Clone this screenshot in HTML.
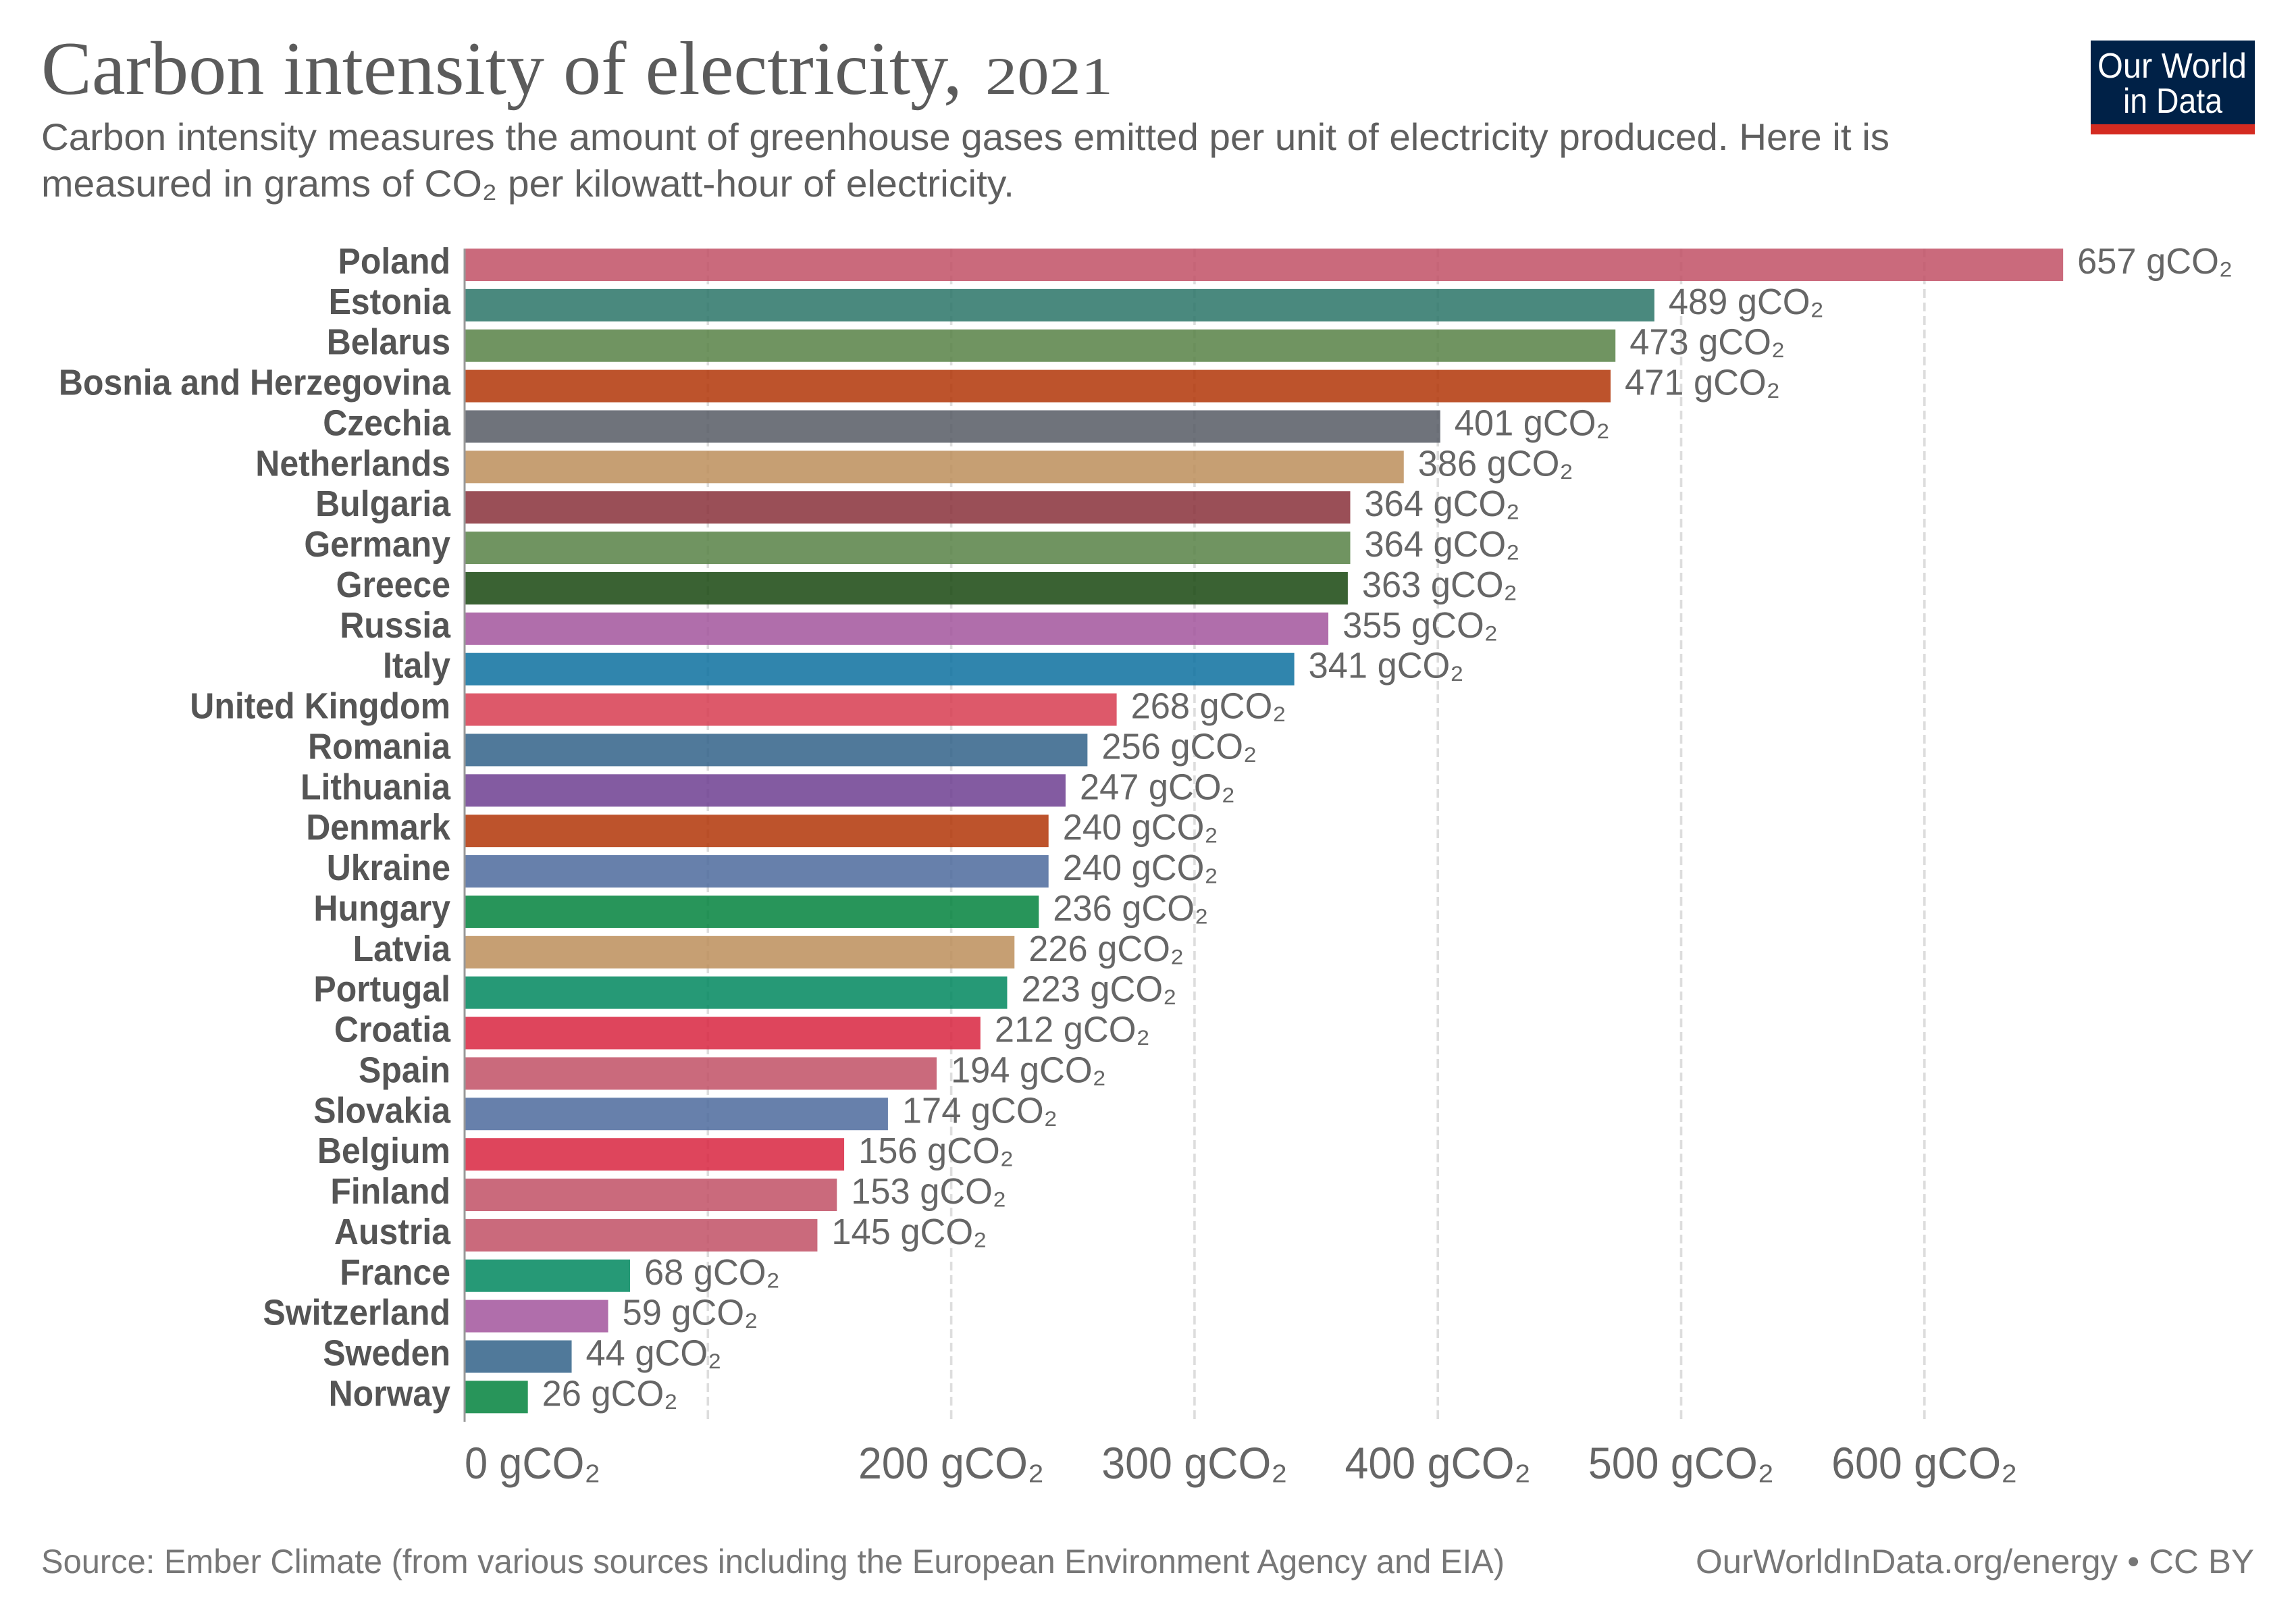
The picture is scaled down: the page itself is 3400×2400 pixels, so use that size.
<!DOCTYPE html>
<html lang="en">
<head>
<meta charset="utf-8">
<title>Carbon intensity of electricity, 2021</title>
<style>
html,body{margin:0;padding:0;background:#fff;width:3400px;height:2400px;overflow:hidden}
svg{display:block}
text{font-family:"Liberation Sans",sans-serif}
</style>
</head>
<body>
<svg id="chart" xmlns="http://www.w3.org/2000/svg" width="3400" height="2400" viewBox="0 0 3400 2400">
  <rect x="0" y="0" width="3400" height="2400" fill="#fff"/>
  <g>
    <text x="61" y="139" font-size="112" fill="#5b5b5b" style="font-family:'Liberation Serif',serif" textLength="1364" lengthAdjust="spacingAndGlyphs">Carbon intensity of electricity,</text>
    <text x="1459" y="139" font-size="78" fill="#5b5b5b" style="font-family:'Liberation Serif',serif" textLength="189" lengthAdjust="spacingAndGlyphs">2021</text>
  </g>
  <g font-size="56" fill="#5f5f5f">
    <text x="61" y="222" textLength="2737" lengthAdjust="spacingAndGlyphs">Carbon intensity measures the amount of greenhouse gases emitted per unit of electricity produced. Here it is</text>
    <text x="61" y="291" textLength="1441" lengthAdjust="spacingAndGlyphs">measured in grams of CO₂ per kilowatt-hour of electricity.</text>
  </g>
  <g>
    <rect x="3096" y="60" width="243" height="124" fill="#002147"/>
    <rect x="3096" y="184" width="243" height="15" fill="#d42b21"/>
    <text x="3106" y="115" font-size="52" fill="#fff" textLength="221" lengthAdjust="spacingAndGlyphs">Our World</text>
    <text x="3144" y="167" font-size="52" fill="#fff" textLength="147" lengthAdjust="spacingAndGlyphs">in Data</text>
  </g>
  <g id="grid"></g>
  <g id="bars"></g>
  <g id="axis"></g>
  <g id="cats"></g>
  <g id="vals"></g>
  <g font-size="50" fill="#777">
    <text x="61" y="2329" textLength="2167" lengthAdjust="spacingAndGlyphs">Source: Ember Climate (from various sources including the European Environment Agency and EIA)</text>
    <text x="2511" y="2329" textLength="827" lengthAdjust="spacingAndGlyphs">OurWorldInData.org/energy • CC BY</text>
  </g>
</svg>
<script>
const categories = ["Poland","Estonia","Belarus","Bosnia and Herzegovina","Czechia","Netherlands","Bulgaria","Germany","Greece","Russia","Italy","United Kingdom","Romania","Lithuania","Denmark","Ukraine","Hungary","Latvia","Portugal","Croatia","Spain","Slovakia","Belgium","Finland","Austria","France","Switzerland","Sweden","Norway"];
const values = [657,489,473,471,401,386,364,364,363,355,341,268,256,247,240,240,236,226,223,212,194,174,156,153,145,68,59,44,26];
const barColors = ["#C15065","#2A7467","#578145","#B13507","#565B64","#BC8E5A","#883039","#578145","#18470F","#A2559C","#0C709F","#D73C50","#316188","#6D3E91","#B13507","#4C6A9C","#02833D","#BC8E5A","#00875E","#D8243F","#C15065","#4C6A9C","#D8243F","#C15065","#C15065","#00875E","#A2559C","#316188","#02833D"];
const tickValues = [0,100,200,300,400,500,600];
const tickLabels = ["0 gCO₂","","200 gCO₂","300 gCO₂","400 gCO₂","500 gCO₂","600 gCO₂"];
const valueUnit = " gCO₂";

const NS = "http://www.w3.org/2000/svg";
const X0 = 688, PX_PER_UNIT = 3.603, ROW_TOP = 368, ROW_STEP = 59.87, BAR_H = 48, PLOT_TOP = 368, PLOT_BOTTOM = 2105;
function xScale(v){ return X0 + v * PX_PER_UNIT; }
function yScale(i){ return ROW_TOP + i * ROW_STEP; }
function mk(tag, parent, attrs){
  const el = document.createElementNS(NS, tag);
  for (const k in attrs) el.setAttribute(k, attrs[k]);
  parent.appendChild(el);
  return el;
}
function squeeze(el, k){
  el.setAttribute("textLength", (el.getComputedTextLength() * k).toFixed(1));
  el.setAttribute("lengthAdjust", "spacingAndGlyphs");
}
const gridG = document.getElementById("grid");
const axisG = document.getElementById("axis");
const barsG = document.getElementById("bars");
const catsG = document.getElementById("cats");
const valsG = document.getElementById("vals");

tickValues.forEach(function(t, i){
  if (t !== 0) {
    const line = mk("line", gridG, {x1:xScale(t), x2:xScale(t), y1:PLOT_TOP, y2:PLOT_BOTTOM, stroke:"#dddddd", "stroke-width":3.6, "stroke-dasharray":"13 7"});
    
    
  }
  if (tickLabels[i]) {
    const tick = mk("text", axisG, {x:xScale(t), y:2189, "font-size":66, fill:"#666", "text-anchor": t === 0 ? "start" : "middle"});
    tick.textContent = tickLabels[i];
    
    
    squeeze(tick, t === 0 ? 0.93 : 0.95);
  }
});

categories.forEach(function(c, i){
  const y = yScale(i);
  const bar = mk("rect", barsG, {x:X0, y:y, width:xScale(values[i]) - X0, height:BAR_H, fill:barColors[i], "fill-opacity":0.85});
  
  

  const cat = mk("text", catsG, {x:667, y:y + BAR_H/2 + 13, "font-size":54, "font-weight":700, fill:"#555", "text-anchor":"end"});
  cat.textContent = c;
  
  
  squeeze(cat, 0.925);

  const val = mk("text", valsG, {x:xScale(values[i]) + 21, y:y + BAR_H/2 + 13, "font-size":54, fill:"#666"});
  val.textContent = values[i] + valueUnit;
  
  
  squeeze(val, 0.97);
});

const axisLine = mk("line", axisG, {x1:X0, x2:X0, y1:PLOT_TOP, y2:PLOT_BOTTOM, stroke:"#999", "stroke-width":3});


</script>
</body>
</html>
